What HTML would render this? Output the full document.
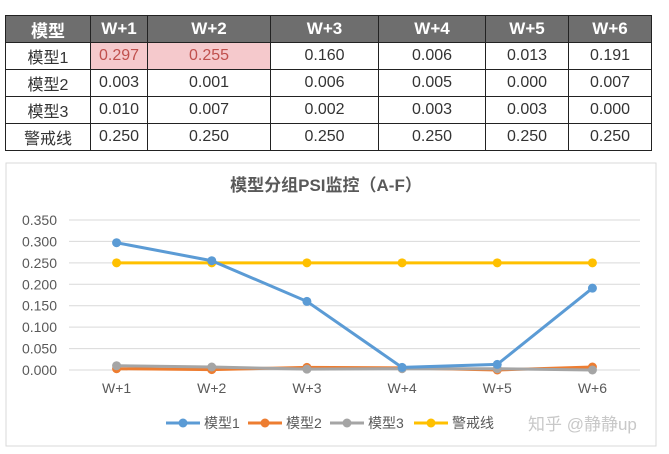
<!DOCTYPE html>
<html><head><meta charset="utf-8">
<style>
body{margin:0;background:#fff;font-family:"Liberation Sans","Noto Sans CJK SC",sans-serif;}
#wrap{position:relative;width:669px;height:454px;overflow:hidden;}
table{position:absolute;left:5px;top:15px;border-collapse:collapse;table-layout:fixed;width:646px;}
td,th{border:1.5px solid #222;height:26px;padding:0;text-align:center;font-size:16px;color:#333;font-weight:normal;}
th{background:#6e6e6e;color:#fff;font-weight:bold;font-size:17px;}
.pink{background:#f5c9cc;color:#c0504d;}
</style></head><body>
<div id="wrap">
<table>
<colgroup><col style="width:85px"><col style="width:57px"><col style="width:123px"><col style="width:108px"><col style="width:107px"><col style="width:83px"><col style="width:83px"></colgroup>
<tr><th>模型</th><th>W+1</th><th>W+2</th><th>W+3</th><th>W+4</th><th>W+5</th><th>W+6</th></tr>
<tr><td>模型1</td><td class="pink">0.297</td><td class="pink">0.255</td><td>0.160</td><td>0.006</td><td>0.013</td><td>0.191</td></tr>
<tr><td>模型2</td><td>0.003</td><td>0.001</td><td>0.006</td><td>0.005</td><td>0.000</td><td>0.007</td></tr>
<tr><td>模型3</td><td>0.010</td><td>0.007</td><td>0.002</td><td>0.003</td><td>0.003</td><td>0.000</td></tr>
<tr><td>警戒线</td><td>0.250</td><td>0.250</td><td>0.250</td><td>0.250</td><td>0.250</td><td>0.250</td></tr>
</table>
<svg id="chart" width="669" height="454" style="position:absolute;left:0;top:0"></svg>
</div>
<script>
const categories=["W+1","W+2","W+3","W+4","W+5","W+6"];
const model1=[0.297,0.255,0.160,0.006,0.013,0.191];
const model2=[0.003,0.001,0.006,0.005,0.000,0.007];
const model3=[0.010,0.007,0.002,0.003,0.003,0.000];
const warning=[0.250,0.250,0.250,0.250,0.250,0.250];
const yTicks=[0,0.05,0.1,0.15,0.2,0.25,0.3,0.35];
const seriesNames=["模型1","模型2","模型3","警戒线"];
const svg=document.getElementById('chart');
const NS='http://www.w3.org/2000/svg';
function mk(t,a,p){const e=document.createElementNS(NS,t);for(const k in a)e.setAttribute(k,a[k]);(p||svg).appendChild(e);return e;}
const L=69,R=640,T=220,B=370;
const x=i=>L+(R-L)/categories.length*(i+0.5);
const y=v=>B-(v/0.35)*(B-T);
let box=mk('rect',{x:6,y:163,width:650,height:283,fill:'none',stroke:'#d9d9d9'});


let title=mk('text',{x:326,y:191,'text-anchor':'middle','font-size':17,'font-weight':'bold',fill:'#595959'});
title.textContent='模型分组PSI监控（A-F）';


yTicks.forEach(v=>{
 let g=mk('line',{x1:L,x2:R,y1:y(v),y2:y(v),stroke:'#d9d9d9'});
 
 
 let t=mk('text',{x:57,y:y(v)+5,'text-anchor':'end','font-size':14,fill:'#595959'});
 t.textContent=v.toFixed(3);
 
 
});
categories.forEach((c,i)=>{
 let t=mk('text',{x:x(i),y:393,'text-anchor':'middle','font-size':14,fill:'#595959'});
 t.textContent=c;
 
 
});
const colors=['#5b9bd5','#ed7d31','#a5a5a5','#ffc000'];
const data=[model1,model2,model3,warning];
[3,1,2,0].forEach(s=>{
 let p=mk('polyline',{points:data[s].map((v,i)=>x(i)+','+y(v)).join(' '),fill:'none',stroke:colors[s],'stroke-width':3});
 
 
 data[s].forEach((v,i)=>{
  let c=mk('circle',{cx:x(i),cy:y(v),r:4.5,fill:colors[s]});
  
  
 });
});
const lx=[166,248,330,414];
seriesNames.forEach((n,s)=>{
 let l=mk('line',{x1:lx[s],x2:lx[s]+34,y1:423,y2:423,stroke:colors[s],'stroke-width':3});
 
 
 let c=mk('circle',{cx:lx[s]+17,cy:423,r:4.5,fill:colors[s]});
 
 
 let t=mk('text',{x:lx[s]+38,y:428,'font-size':14,fill:'#595959'});
 t.textContent=n;
 
 
});
let w=mk('text',{x:528,y:430,'font-size':17,fill:'#c8c8c8'});
w.textContent='知乎 @静静up';


</script>
</body></html>
